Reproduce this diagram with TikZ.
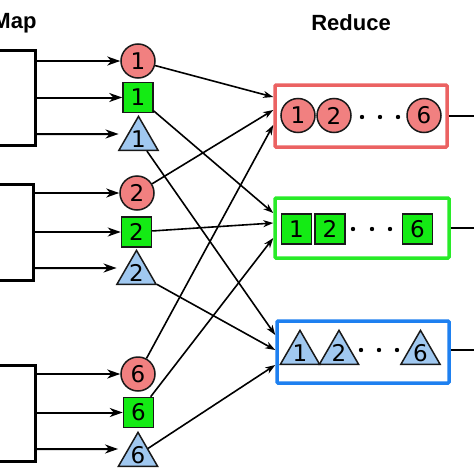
\documentclass[tikz,border=0pt]{standalone}
\usepackage{fontspec}
\setmainfont{Liberation Sans}
\newfontfamily\digitfont{DejaVu Sans}
\usetikzlibrary{positioning,arrows.meta,shapes.geometric}
\definecolor{keyred}{RGB}{241,128,128}
\definecolor{keygreen}{RGB}{20,235,20}
\definecolor{keyblue}{RGB}{160,200,240}
\definecolor{boxred}{RGB}{235,98,98}
\definecolor{boxgreen}{RGB}{40,235,40}
\definecolor{boxblue}{RGB}{30,128,240}
\tikzset{
    key/.style={%
        draw=black!90, line width=1.5pt,
        inner sep=0pt,
        font=\digitfont\fontsize{23}{23}\selectfont
        },
    keycircle/.style={key, circle, fill=keyred, minimum size=34},
    keysquare/.style={key, rectangle, fill=keygreen, minimum size=30},
    keytriangle/.style={key, regular polygon, regular polygon sides=3, fill=keyblue, minimum size=42,
        text height=16pt, text depth=0pt,
        execute at begin node={\hbox to 0pt\bgroup\hss},
        execute at end node={\hss\egroup}},
    mapbox/.style={draw, line width=3pt, minimum width=60, minimum height=#1},
    mapbox/.default=95,
    reducebox/.style={draw=#1, line width=3.5pt, rounded corners=1pt, minimum width=172, minimum height=62},
    title/.style={font=\fontsize{22}{22}\selectfont\bfseries},
    maparrow/.style={-{Stealth[length=13pt,width=9pt,inset=4pt]}, line width=2pt},
    shuffle/.style={-{Stealth[length=10pt,width=7pt,inset=3pt]}, line width=1.6pt},
    >=Stealth
}

\begin{document}
\begin{tikzpicture}[x=1pt, y=-1pt]

\useasboundingbox (0,0) rectangle (474,474);

\node[title, anchor=east] (MapTitle) at (40,23) {Map};
\node[title] (ReduceTitle) at (351,23) {Reduce};

% map side
\node[mapbox] (mapA) at (5,97.5) {};
\node[mapbox=96] (mapB) at (3,232) {};
\node[mapbox=96] (mapC) at (5,413) {};

\node[keycircle] (c1) at (138,61) {1};
\node[keysquare] (s1) at (138,97.5) {1};
\node[keytriangle] (t1) at (138.5,139) {1};

\node[keycircle] (c2) at (137,193) {2};
\node[keysquare] (s2) at (136.5,232) {2};
\node[keytriangle] (t2) at (136.5,273) {2};

\node[keycircle] (c6) at (138,374) {6};
\node[keysquare] (s6) at (138.5,412.5) {6};
\node[keytriangle] (t6) at (138,455) {6};

\draw[maparrow] (mapA.east |- c1) -- (c1);
\draw[maparrow] (mapA.east |- s1) -- (s1);
\draw[maparrow] ([yshift=5]mapA.east |- t1) -- ([xshift=-6,yshift=5]t1.west);

\draw[maparrow] (mapB.east |- c2) -- (c2);
\draw[maparrow] (mapB.east |- s2) -- (s2);
\draw[maparrow] ([yshift=5]mapB.east |- t2) -- ([xshift=-6,yshift=5]t2.west);

\draw[maparrow] (mapC.east |- c6) -- (c6);
\draw[maparrow] (mapC.east |- s6) -- (s6);
\draw[maparrow] ([yshift=6]mapC.east |- t6) -- ([xshift=-6,yshift=6]t6.west);

% reduce side
\node[reducebox=boxred] (RedBox) at (361,116) {};
\node[reducebox=boxgreen, minimum width=174, minimum height=60] (GreenBox) at (362,228) {};
\node[reducebox=boxblue] (BlueBox) at (363,352) {};

\node[keycircle] (r1) at (298,115.5) {1};
\node[keycircle] (r2) at (334,115.5) {2};
\node[keycircle] (r6) at (424,115.5) {6};
\foreach \x in {362,380,398} \fill (\x,117) circle (2.2);

\node[keysquare] (g1) at (296.5,229) {1};
\node[keysquare] (g2) at (330,229) {2};
\node[keysquare] (g6) at (417.5,229) {6};
\foreach \x in {353,372,390} \fill (\x,229) circle (2.2);

\node[keytriangle] (b1) at (300,353) {1};
\node[keytriangle] (b2) at (339,353) {2};
\node[keytriangle] (b6) at (420.5,353) {6};
\foreach \x in {361,379,397} \fill (\x,350) circle (2.2);

% shuffle
\draw[shuffle] (c1) -- ([yshift=19]RedBox.west);
\draw[shuffle] (c2) -- ([yshift=6]RedBox.west);
\draw[shuffle] (c6) -- ([yshift=-9]RedBox.west);

\draw[shuffle] (s1) -- ([yshift=15]GreenBox.west);
\draw[shuffle] (s2) -- ([yshift=5]GreenBox.west);
\draw[shuffle] (s6) -- ([yshift=-10]GreenBox.west);

\draw[shuffle] (t1) -- ([yshift=17]BlueBox.west);
\draw[shuffle] (t2) -- ([yshift=2]BlueBox.west);
\draw[shuffle] (t6) -- ([yshift=-13]BlueBox.west);

% output
\draw[line width=2pt] (RedBox.east) -- ++(40,0);
\draw[line width=2pt] (GreenBox.east) -- ++(40,0);
\draw[line width=2pt] ([yshift=2]BlueBox.east) -- ++(40,0);

\end{tikzpicture}
\end{document}
